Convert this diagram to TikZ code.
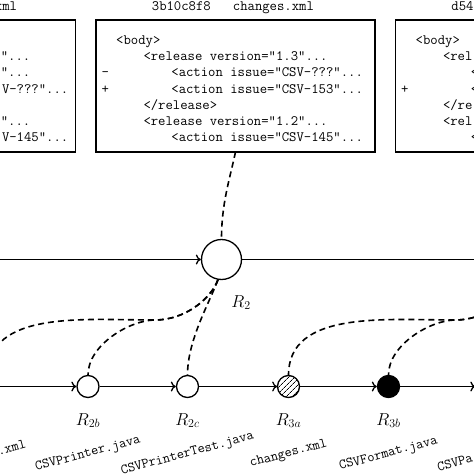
\documentclass[tikz,border=0pt]{standalone}
\usepackage{fontspec}
\usetikzlibrary{arrows.meta,patterns.meta}
\begin{document}
\begin{tikzpicture}[x=1pt,y=-1pt,
  box/.style={draw,line width=1.8pt,minimum width=279pt,minimum height=132pt,inner sep=0pt,outer sep=0pt},
  code/.style={anchor=base west,inner sep=0pt,font=\fontsize{14.3}{16}\selectfont\ttfamily},
  codeR/.style={code,anchor=base east},
  tl/.style={line width=1.3pt,-{To[length=5pt,width=10pt]}},
  bigc/.style={circle,draw,fill=white,line width=1.3pt,minimum size=40pt,inner sep=0pt},
  smallc/.style={circle,draw,fill=white,line width=1.3pt,minimum size=22pt,inner sep=0pt},
  hatched/.style={smallc,preaction={fill=white},pattern={Lines[angle=45,distance=4pt,line width=0.7pt]}},
  filled/.style={smallc,fill=black},
  dep/.style={line width=1.6pt,dash pattern=on 6pt off 4pt},
  rlab/.style={anchor=base,inner sep=0pt,font=\fontsize{18.5}{20}\selectfont},
  flab/.style={rotate=15,inner sep=0pt,font=\fontsize{14}{16}\selectfont\ttfamily},
]
\useasboundingbox (0,0) rectangle (474,474);
\fill[white] (0,0) rectangle (474,474);
\clip (0,0) rectangle (474,474);

% ---------- boxes ----------
\node[box] (b1) at (-64,86) {};
\node[box] (b2) at (235.5,86) {};
\node[box] (b3) at (535,86) {};

% header labels
\node[codeR] (h1) at (17.2,10.5) {xml};
\node[code] (h2) at (151.7,10.5) {3b10c8f8~~~changes.xml};
\node[code] (h3) at (451.2,10.5) {d54};

% left box (visible fragments)
\node[codeR] (l2) at (30.5,60.7) {"...};
\node[codeR] (l3) at (30.5,76.8) {"...};
\node[codeR] (l4) at (68.5,93) {V-???"...};
\node[codeR] (l6) at (30.5,125.4) {"...};
\node[codeR] (l7) at (68.5,141.5) {V-145"...};

% middle box
\node[code] (m1) at (116,44.5) {<body>};
\node[code] (m2t) at (143.3,60.7) {<release version="1.3"...};
\node[code] (mm) at (101.3,76.8) {-};
\node[code] (m3t) at (171.2,76.8) {<action issue="CSV-???"...};
\node[code] (mp) at (101.3,93) {+};
\node[code] (m4t) at (171.2,93) {<action issue="CSV-153"...};
\node[code] (m5t) at (143.3,109.2) {</release>};
\node[code] (m6t) at (143.3,125.4) {<release version="1.2"...};
\node[code] (m7t) at (171.2,141.5) {<action issue="CSV-145"...};

% right box (visible fragments)
\node[code] (r1) at (415.5,44.5) {<body>};
\node[code] (r2) at (442.8,60.7) {<rel};
\node[code] (r3) at (470.7,76.8) {<};
\node[code] (rp) at (400.8,93) {+};
\node[code] (r4) at (470.7,93) {<};
\node[code] (r5) at (442.8,109.2) {</re};
\node[code] (r6) at (442.8,125.4) {<rel};
\node[code] (r7) at (470.7,141.5) {<};

% ---------- upper timeline ----------
\node[bigc] (R1) at (-80,259.5) {};
\node[bigc] (R2) at (221.5,259.5) {};
\node[bigc] (R3) at (522,259.5) {};
\draw[tl] (R1) -- (R2);
\draw[tl] (R2) -- (R3);
\node[rlab] (lR2) at (241,307) {$R_2$};

\draw[dep] (b2.south) .. controls +(-6,28) and +(0,-35) .. (R2.north);

% ---------- lower timeline ----------
\node[smallc] (R2a) at (-12,386.5) {};
\node[smallc] (R2b) at (88,386.5) {};
\node[smallc] (R2c) at (187.5,386.5) {};
\node[hatched] (R3a) at (288.5,386.5) {};
\node[filled] (R3b) at (388.5,386.5) {};
\node[smallc] (R3c) at (487,386.5) {};
\draw[tl] (R2a) -- (R2b);
\draw[tl] (R2b) -- (R2c);
\draw[tl] (R2c) -- (R3a);
\draw[tl] (R3a) -- (R3b);
\draw[tl] (R3b) -- (R3c);

\node[rlab] (lR2a) at (-12,425) {$R_{2a}$};
\node[rlab] (lR2b) at (88,425) {$R_{2b}$};
\node[rlab] (lR2c) at (187.5,425) {$R_{2c}$};
\node[rlab] (lR3a) at (288.5,425) {$R_{3a}$};
\node[rlab] (lR3b) at (388.5,425) {$R_{3b}$};

\node[flab,anchor=east] (f0) at (25.7,443.9) {.xml};
\node[flab] (f1) at (88,454) {CSVPrinter.java};
\node[flab] (f2) at (187.5,454) {CSVPrinterTest.java};
\node[flab] (f3) at (288.5,454) {changes.xml};
\node[flab] (f4) at (388.5,454) {CSVFormat.java};
\node[flab,anchor=west] (f5) at (437.3,467.3) {CSVPa};

% ---------- dependency curves ----------
\coordinate (w2) at (155,320);
\coordinate (w3) at (455.5,320);
\draw[dep] (R2.-100) .. controls +(-7,19) and +(30,0) .. (w2) .. controls +(-70,0) and +(0,-65) .. (R2a.north);
\draw[dep] (R2.-100) .. controls +(-7,19) and +(30,0) .. (w2) .. controls +(-25,0) and +(0,-30) .. (R2b.north);
\draw[dep] (R2.-100) .. controls +(-8,22) and +(0,-35) .. (R2c.north);
\draw[dep] (R3.-100) .. controls +(-7,19) and +(30,0) .. (w3) .. controls +(-70,0) and +(0,-65) .. (R3a.north);
\draw[dep] (R3.-100) .. controls +(-7,19) and +(30,0) .. (w3) .. controls +(-25,0) and +(0,-30) .. (R3b.north);
\end{tikzpicture}
\end{document}
